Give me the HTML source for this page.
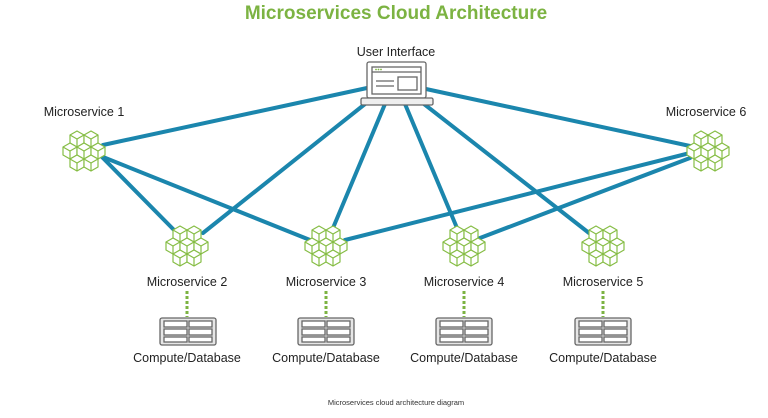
<!DOCTYPE html>
<html><head><meta charset="utf-8"><style>
html,body{margin:0;padding:0;background:#fff;width:768px;height:418px;overflow:hidden}
svg{display:block}
text{font-family:"Liberation Sans",sans-serif}
</style></head><body>
<svg width="768" height="418" viewBox="0 0 768 418" xmlns="http://www.w3.org/2000/svg">
<defs>
<g id="cube" fill="#fff" stroke="#86bd45" stroke-width="1.2" stroke-linejoin="round">
<polygon points="0,-8 7,-4 7,4 0,8 -7,4 -7,-4"/>
<polyline points="-7,-4 0,0 7,-4" fill="none"/><line x1="0" y1="0" x2="0" y2="8"/>
</g>
<g id="cl">
<use href="#cube" x="-7" y="-12"/><use href="#cube" x="7" y="-12"/>
<use href="#cube" x="-14" y="0"/><use href="#cube" x="0" y="0"/><use href="#cube" x="14" y="0"/>
<use href="#cube" x="-7" y="12"/><use href="#cube" x="7" y="12"/>
</g>
<g id="srv" fill="#fff" stroke="#666" stroke-width="1.3">
<rect x="0" y="0" width="56" height="27" rx="2" fill="#e6e6e6"/>
<rect x="4" y="3" width="23" height="6"/><rect x="29" y="3" width="23" height="6"/>
<rect x="4" y="11" width="23" height="6"/><rect x="29" y="11" width="23" height="6"/>
<rect x="4" y="19" width="23" height="5"/><rect x="29" y="19" width="23" height="5"/>
</g>
</defs>
<text x="396" y="19" text-anchor="middle" font-size="19" font-weight="bold" fill="#7cb342">Microservices Cloud Architecture</text>
<g stroke="#1b86ad" stroke-width="4" stroke-linecap="round">
<line x1="103" y1="145" x2="367" y2="88"/>
<line x1="426" y1="89" x2="690" y2="146"/>
<line x1="100" y1="155" x2="176" y2="232"/>
<line x1="103" y1="157" x2="310" y2="240"/>
<line x1="365" y1="104" x2="203" y2="233"/>
<line x1="385" y1="104" x2="333" y2="228"/>
<line x1="405" y1="104" x2="457" y2="228"/>
<line x1="424" y1="104" x2="589" y2="233"/>
<line x1="690" y1="153" x2="345" y2="240"/>
<line x1="690" y1="158" x2="480" y2="238"/>
</g>
<!-- laptop -->
<g stroke="#666" stroke-width="1.3" fill="#fff">
<rect x="367" y="62" width="59" height="36" rx="2"/>
<rect x="372" y="67" width="49" height="27"/>
<line x1="372" y1="72" x2="421" y2="72"/>
<rect x="361" y="98" width="72" height="7" rx="1.5" fill="#eee"/>
<rect x="398" y="77" width="19" height="13"/>
<line x1="376" y1="81" x2="394" y2="81"/><line x1="376" y1="86" x2="394" y2="86"/>
</g>
<circle cx="376" cy="69.5" r="0.9" fill="#7cb342"/><circle cx="378.5" cy="69.5" r="0.9" fill="#7cb342"/><circle cx="381" cy="69.5" r="0.9" fill="#7cb342"/>
<use href="#cl" x="84" y="151"/><use href="#cl" x="708" y="151"/>
<use href="#cl" x="187" y="246"/><use href="#cl" x="326" y="246"/>
<use href="#cl" x="464" y="246"/><use href="#cl" x="603" y="246"/>
<g stroke="#7cb342" stroke-width="3" stroke-dasharray="3,2">
<line x1="187" y1="291" x2="187" y2="317"/><line x1="326" y1="291" x2="326" y2="317"/>
<line x1="464" y1="291" x2="464" y2="317"/><line x1="603" y1="291" x2="603" y2="317"/>
</g>
<use href="#srv" x="160" y="318"/><use href="#srv" x="298" y="318"/>
<use href="#srv" x="436" y="318"/><use href="#srv" x="575" y="318"/>
<g font-size="12.5" fill="#222" text-anchor="middle">
<text x="396" y="56">User Interface</text>
<text x="84" y="116">Microservice 1</text>
<text x="706" y="116">Microservice 6</text>
<text x="187" y="286">Microservice 2</text>
<text x="326" y="286">Microservice 3</text>
<text x="464" y="286">Microservice 4</text>
<text x="603" y="286">Microservice 5</text>
<text x="187" y="362">Compute/Database</text>
<text x="326" y="362">Compute/Database</text>
<text x="464" y="362">Compute/Database</text>
<text x="603" y="362">Compute/Database</text>
</g>
<text x="396" y="405" font-size="7.5" fill="#333" text-anchor="middle">Microservices cloud architecture diagram</text>
</svg>
</body></html>
